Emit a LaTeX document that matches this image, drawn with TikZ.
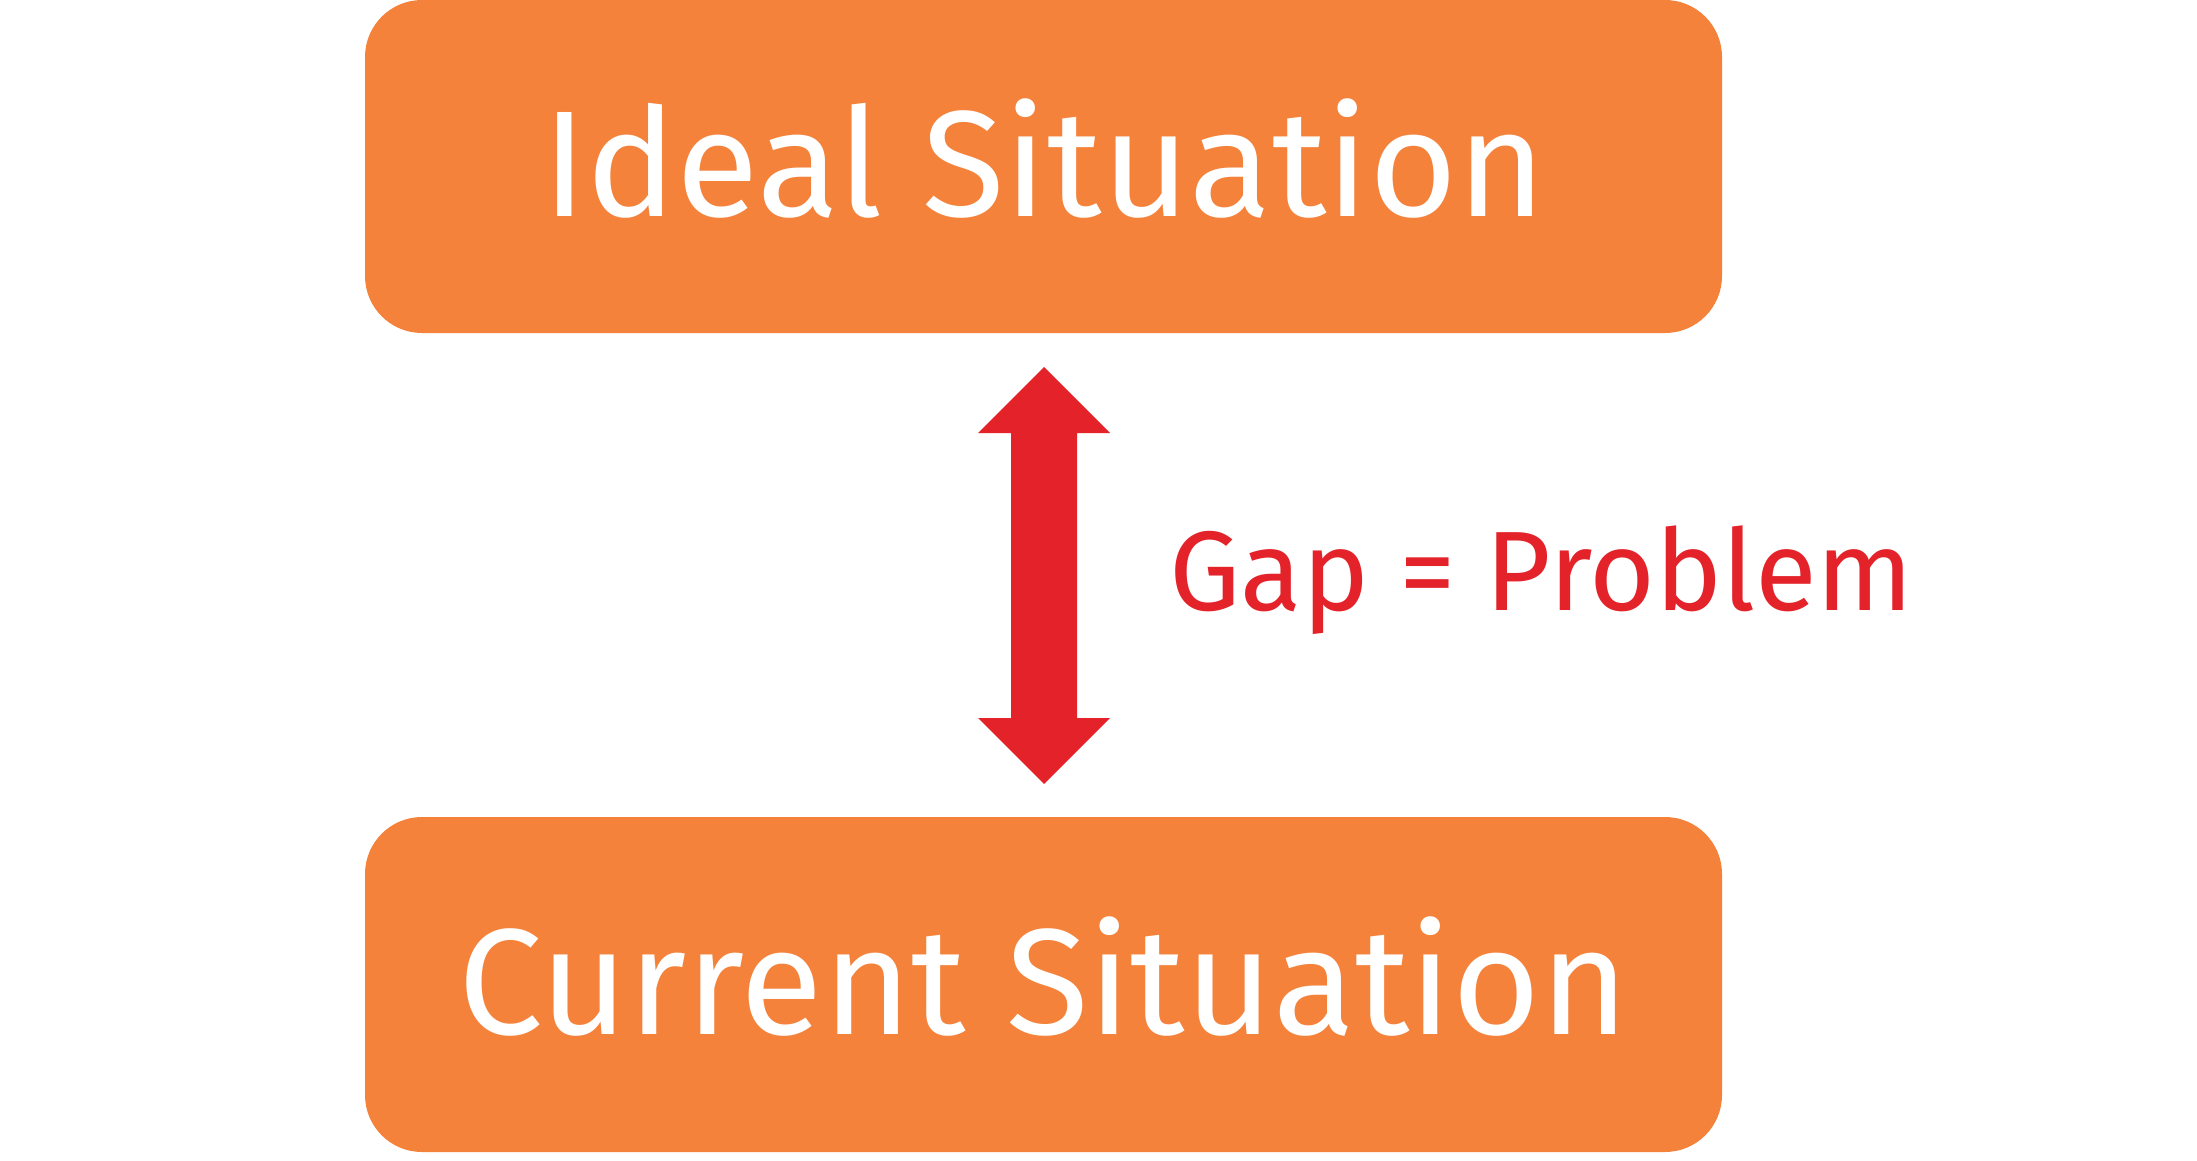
\documentclass[tikz,border=0pt]{standalone}
\usepackage{fontspec}
\setmainfont{Fira Sans}
\definecolor{boxorange}{RGB}{244,130,59}
\definecolor{gapred}{RGB}{227,34,42}
\begin{document}
\begin{tikzpicture}[x=0.5pt,y=-0.5pt,
  sitbox/.style={fill=boxorange,rounded corners=28.5pt},
  sittext/.style={text=white,anchor=base,inner sep=0pt,font=\fontsize{75.5}{90}\selectfont},
  gaptext/.style={text=gapred,anchor=base west,inner sep=0pt,font=\fontsize{56.5}{68}\selectfont}]
\useasboundingbox (0,0) rectangle (2197,1161);
\fill[sitbox] (365,0) rectangle (1722,333);
\fill[sitbox] (365,817) rectangle (1722,1152);
\node[sittext] (ideal) at (1044,217) {Ideal Situation};
\node[sittext] (current) at (1044,1034) {Current Situation};
\fill[gapred] (1044,367) -- (1110,433) -- (1077,433) -- (1077,718) -- (1110,718)
  -- (1044,784) -- (978,718) -- (1011,718) -- (1011,433) -- (978,433) -- cycle;
\node[gaptext] (gap) at (1169,610) {Gap = Problem};
\end{tikzpicture}
\end{document}
